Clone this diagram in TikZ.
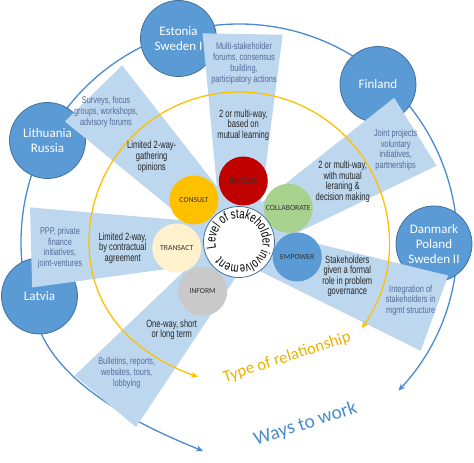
\documentclass[tikz,border=0pt]{standalone}
\usepackage{xcolor}
\usepackage{fontspec}
\setmainfont{Carlito}
\newfontfamily\narrowfont[FakeStretch=0.72]{Liberation Sans}
\newfontfamily\toolfont[FakeStretch=0.75]{Liberation Sans}
\newfontfamily\ringfont[FakeStretch=0.7]{Liberation Sans}
\usepackage{tikz}
\usetikzlibrary{arrows.meta, decorations.text}

\definecolor{wedgeblue}{HTML}{BDD7EE}
\definecolor{countryblue}{HTML}{5B9BD5}
\definecolor{countryedge}{HTML}{41719C}
\definecolor{relyellow}{HTML}{FFC000}
\definecolor{waysblue}{HTML}{4A8BCF}
\definecolor{tooltext}{RGB}{84,106,156}
\definecolor{involvered}{HTML}{C00000}
\definecolor{consultgold}{HTML}{FFC000}
\definecolor{collabgreen}{HTML}{A9D18E}
\definecolor{empowerblue}{HTML}{5B9BD5}
\definecolor{informgray}{HTML}{C9C9C9}
\definecolor{transactcream}{HTML}{FFF2CC}

\begin{document}
\begin{tikzpicture}[x=1pt, y=1pt,
  country/.style={circle, draw=countryedge, line width=0.8pt, fill=countryblue, minimum size=76pt, inner sep=0pt},
  countrylabel/.style={align=center, text=white, font=\fontsize{13}{15}\selectfont},
  act/.style={circle, minimum size=49pt, inner sep=0pt, font=\fontsize{7.7}{8}\selectfont, text=black!80},
  how/.style={align=center, font=\narrowfont\fontsize{10.5}{10.6}\selectfont, text=black!85},
  tool/.style={align=center, font=\toolfont\fontsize{9.8}{10.8}\selectfont, text=tooltext},
  tip/.style={{Stealth[length=7pt,width=6pt]}-{Stealth[length=7pt,width=6pt]}}]
  \useasboundingbox (-239,-221) rectangle (235,242);
  %% Ways to work: outer arc and the countries on it
  \draw[waysblue, line width=1.3pt, tip] (-43:218) arc[start angle=-43, end angle=205, radius=218]
    to[out=295, in=158, looseness=0.8] (-36,-209);
  \node[country] (estonia) at (-60.5,203.5) {};
  \node[country] (lithuania) at (-191.5,101.5) {};
  \node[country] (finland) at (139,157.5) {};
  \node[country] (danmark) at (195,-2) {};
  \node[country] (latvia) at (-199.5,-54) {};
  %% Wedges, one per level
  \foreach \ang in {181.5,134.4,89,32,-20,230}{
    \fill[wedgeblue] (\ang+90:17) -- (\ang+10.9:211.8) -- (\ang-10.9:211.8) -- (\ang-90:17) -- cycle;
  }
  %% Type of relationship arc
  \draw[relyellow, line width=1.3pt, tip] (-35:150) arc[start angle=-35, end angle=180, radius=150]
    to[out=-90, in=160] (-41,-135);
  %% Levels of involvement
  \foreach \nm/\x/\y/\col/\lbl in {involve/4.3/61/involvered/INVOLVE, consult/-45/42/consultgold/CONSULT,
      collaborate/49.3/33.7/collabgreen/COLLABORATE, empower/58.3/-15/empowerblue/EMPOWER,
      inform/-36.3/-49.3/informgray/INFORM, transact/-62.3/-6/transactcream/TRANSACT}{
    \node[act, fill=\col] (\nm) at (\x,\y) {\lbl};
  }
  \node[circle, draw=countryedge, line width=0.8pt, fill=white, minimum size=71pt] (core) at (0,0) {};
  \path[decorate, decoration={text along path,
      text={|\ringfont\fontsize{13.5}{13.5}\selectfont|Level of stakeholder involvement}}]
    (195:23.5) arc[start angle=195, end angle=-160, radius=23.5];
  %% Inner descriptions
  \node[how] (involvehow) at (4.3,117) {2 or multi-way,\\based on\\mutual learning};
  \node[how] (consulthow) at (-87.3,85.3) {Limited 2-way-\\gathering\\opinions};
  \node[how] (collaboratehow) at (103.7,60.3) {2 or multi-way,\\with mutual\\leraning \&\\decision making};
  \node[how] (empowerhow) at (108.3,-34.3) {Stakeholders\\given a formal\\role in problem\\governance};
  \node[how] (informhow) at (-67.3,-87.7) {One-way, short\\or long term};
  \node[how] (transacthow) at (-116.3,-6) {Limited 2-way,\\by contractual\\agreement};
  %% Outer tools
  \node[tool] (involvetool) at (5,178.5) {Multi-stakeholder\\forums, consensus\\building,\\participatory actions};
  \node[tool] (consulttool) at (-133,130.3) {Surveys, focus\\groups, workshops,\\advisory forums};
  \node[tool] (collaboratetool) at (156.7,92) {Joint projects\\voluntary\\initiatives,\\partnerships};
  \node[tool] (empowertool) at (171.7,-58.3) {Integration of\\stakeholders in\\mgmt structure};
  \node[tool] (informtool) at (-112.3,-131) {Bulletins, reports,\\websites, tours,\\lobbying};
  \node[tool] (transacttool) at (-179,-6) {PPP, private\\finance\\initiatives,\\joint-ventures};
  %% Country names
  \node[countrylabel] (estonialbl) at (estonia) {Estonia\\Sweden I};
  \node[countrylabel] (lithuanialbl) at (lithuania) {Lithuania\\Russia};
  \node[countrylabel] (finlandlbl) at (finland) {Finland};
  \node[countrylabel] (danmarklbl) at (danmark) {Danmark\\Poland\\Sweden II};
  \node[countrylabel] (latvialbl) at (latvia) {Latvia};
  %% Axis names
  \node[rotate=18, text=relyellow!92!black, font=\fontsize{16.6}{18}\selectfont] (reltext) at (48,-115.5) {Type of relationship};
  \node[rotate=18, text=waysblue, font=\fontsize{19.5}{21}\selectfont] (waystext) at (66.5,-182) {Ways to work};
\end{tikzpicture}
\end{document}
